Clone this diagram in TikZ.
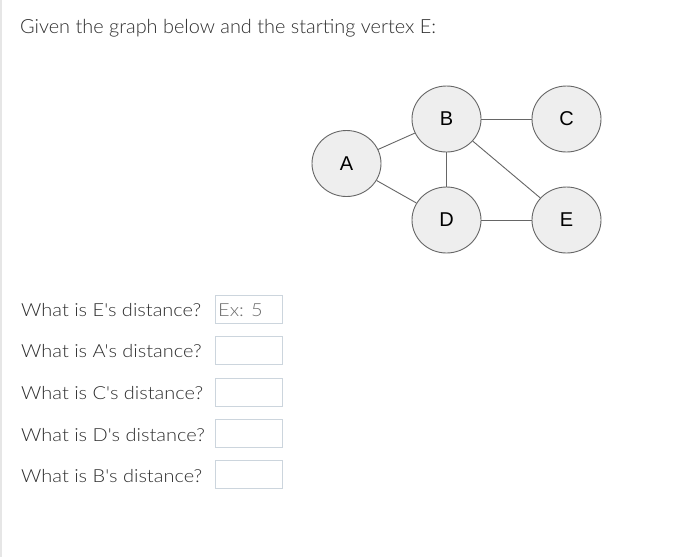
\documentclass[tikz,border=0pt]{standalone}
\usepackage{fontspec}
\usetikzlibrary{shapes.geometric}
\setmainfont{Lato Light}[Ligatures=TeXOff]
\newfontfamily\titlefont{Lato Light}[Ligatures=TeXOff,FakeStretch=1.02]
\newfontfamily\qfont{Lato Light}[Ligatures=TeXOff,FakeStretch=1.11]
\setsansfont{Liberation Sans}
\begin{document}
\begin{tikzpicture}[x=1pt,y=-1pt,
  vtx/.style={draw=edgec,fill=nodefill,line width=0.9pt,ellipse,minimum width=69pt,minimum height=66pt,inner sep=0pt,font=\sffamily\fontsize{20}{20}\selectfont,text=black},
  edge/.style={draw=edgec,line width=0.9pt},
  qtext/.style={anchor=base west,inner sep=0pt,text=txt,font=\qfont\fontsize{18}{18}\selectfont},
  ansbox/.style={draw=boxc,line width=0.8pt,minimum width=67pt,minimum height=28pt,inner sep=0pt,anchor=north west}]
\definecolor{edgec}{HTML}{666666}
\definecolor{nodefill}{HTML}{EEEEEE}
\definecolor{txt}{HTML}{2E2E2E}
\definecolor{boxc}{HTML}{CCD5DD}
\definecolor{leftline}{HTML}{E6E6E6}
\useasboundingbox (0,0) rectangle (688,557);
\fill[white] (0,0) rectangle (688,557);
\fill[leftline] (0,0) rectangle (1.5,557);
\node[qtext,font=\titlefont\fontsize{19.5}{20}\selectfont] (title) at (20,33) {Given the graph below and the starting vertex E:};
% graph
\node[vtx] (A) at (346.5,163.5) {A};
\node[vtx] (B) at (446.5,119) {B};
\node[vtx] (C) at (566.5,119) {C};
\node[vtx] (D) at (446.5,220) {D};
\node[vtx] (E) at (566.5,220) {E};
\draw[edge] (A) -- (B);
\draw[edge] (A) -- (D);
\draw[edge] (B) -- (C);
\draw[edge] (B) -- (D);
\draw[edge] (B) -- (E);
\draw[edge] (D) -- (E);
% questions
\node[qtext] (q1) at (21,316) {What is E's distance?};
\node[qtext] (q2) at (21,357) {What is A's distance?};
\node[qtext] (q3) at (21,399) {What is C's distance?};
\node[qtext] (q4) at (21,441) {What is D's distance?};
\node[qtext] (q5) at (21,482) {What is B's distance?};
\node[ansbox] (b1) at (215,295) {};
\node[ansbox] (b2) at (215,336) {};
\node[ansbox] (b3) at (215,378) {};
\node[ansbox] (b4) at (215,419) {};
\node[ansbox] (b5) at (215,460) {};
\node[qtext,text=txt!70,font=\qfont\fontsize{18}{18}\selectfont] (ex) at (218,316) {Ex: 5};
\end{tikzpicture}
\end{document}
